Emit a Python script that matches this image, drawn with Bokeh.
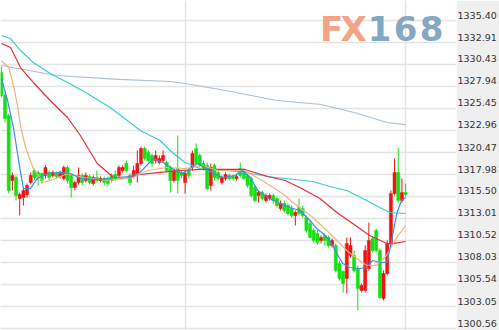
from bokeh.plotting import figure
from bokeh.models import Range1d, FixedTicker, CustomJSTickFormatter, Label, ColumnDataSource
from bokeh.embed import file_html
from bokeh.resources import INLINE

# ---- candle data (price) ----
opens = [1329.52, 1326.91, 1324.65, 1317.30, 1317.64, 1315.26, 1315.38, 1315.72, 1317.07, 1318.43,
         1318.21, 1318.09, 1317.87, 1318.21, 1317.87, 1318.09, 1317.75, 1317.53, 1318.77, 1317.87,
         1316.51, 1317.07, 1317.87, 1317.30, 1317.75, 1316.96, 1317.64, 1317.30, 1317.53, 1317.53,
         1317.87, 1317.98, 1317.87, 1318.43, 1319.22, 1317.87, 1317.87, 1318.09, 1319.22, 1320.92,
         1320.47, 1320.13, 1319.56, 1319.34, 1319.56, 1319.34, 1318.66, 1317.30, 1318.66, 1318.21,
         1317.07, 1318.43, 1318.77, 1320.92, 1320.13, 1319.22, 1319.00, 1316.73, 1319.00, 1318.21,
         1317.07, 1317.53, 1317.87, 1317.75, 1317.53, 1318.66, 1318.43, 1317.87, 1317.53, 1316.51,
         1315.60, 1315.94, 1315.04, 1315.26, 1315.60, 1315.26, 1314.13, 1314.70, 1314.47, 1314.13,
         1313.34, 1314.25, 1314.13, 1313.11, 1312.44, 1311.65, 1311.31, 1310.51, 1311.08, 1310.85,
         1309.95, 1309.95, 1307.91, 1307.01, 1306.22, 1308.82, 1308.82, 1307.35, 1304.86, 1304.86,
         1307.35, 1310.74, 1311.65, 1309.38, 1303.95, 1306.78, 1310.17, 1315.83, 1318.21, 1315.04,
         1315.94]
highs = [1330.20, 1327.25, 1324.88, 1318.21, 1317.87, 1315.94, 1316.51, 1316.96, 1318.21, 1318.66,
         1318.43, 1318.21, 1319.00, 1318.43, 1318.43, 1318.32, 1318.43, 1319.00, 1319.00, 1318.09,
         1317.30, 1318.77, 1318.09, 1318.21, 1317.98, 1317.87, 1318.43, 1317.75, 1317.75, 1317.75,
         1318.09, 1318.43, 1319.00, 1319.00, 1319.56, 1318.09, 1319.00, 1320.69, 1321.14, 1321.14,
         1320.69, 1320.35, 1320.69, 1320.13, 1320.69, 1319.56, 1319.00, 1318.66, 1322.39, 1318.43,
         1318.43, 1318.66, 1320.69, 1321.49, 1320.35, 1319.56, 1319.34, 1319.22, 1319.22, 1318.43,
         1317.87, 1318.21, 1318.09, 1317.98, 1317.98, 1319.34, 1318.66, 1318.09, 1317.75, 1316.73,
         1316.17, 1316.17, 1315.83, 1315.83, 1315.83, 1315.49, 1315.04, 1315.04, 1314.70, 1314.47,
         1313.91, 1315.26, 1314.47, 1313.34, 1312.78, 1311.87, 1311.65, 1311.08, 1311.31, 1311.08,
         1310.74, 1310.17, 1308.25, 1307.12, 1310.85, 1310.85, 1309.38, 1307.69, 1305.65, 1309.95,
         1312.55, 1310.97, 1311.87, 1309.61, 1307.12, 1310.51, 1316.17, 1319.79, 1321.03, 1317.53,
         1316.96]
lows = [1326.70, 1323.86, 1315.83, 1316.17, 1315.04, 1313.34, 1314.47, 1315.38, 1316.85, 1317.30,
        1316.73, 1316.96, 1317.53, 1317.30, 1317.64, 1317.53, 1317.53, 1317.30, 1316.96, 1315.38,
        1316.17, 1316.85, 1316.73, 1317.07, 1316.85, 1316.73, 1317.07, 1317.07, 1316.73, 1316.62,
        1317.07, 1317.30, 1317.64, 1318.21, 1318.21, 1316.73, 1317.53, 1317.07, 1319.00, 1319.56,
        1319.34, 1318.88, 1319.22, 1319.11, 1319.34, 1318.21, 1315.94, 1317.07, 1315.83, 1317.53,
        1315.83, 1317.53, 1318.43, 1319.00, 1318.77, 1318.43, 1316.17, 1316.17, 1317.30, 1317.30,
        1316.85, 1317.30, 1317.30, 1317.30, 1317.30, 1317.64, 1317.30, 1316.51, 1315.38, 1314.81,
        1314.81, 1315.04, 1314.81, 1315.04, 1314.70, 1314.25, 1313.91, 1313.68, 1313.34, 1313.11,
        1312.21, 1313.34, 1313.11, 1311.42, 1310.74, 1310.29, 1310.06, 1310.17, 1309.95, 1309.72,
        1309.72, 1306.90, 1305.99, 1304.63, 1304.52, 1308.59, 1306.90, 1302.60, 1304.63, 1304.63,
        1307.12, 1309.16, 1309.16, 1303.95, 1303.73, 1306.56, 1309.95, 1315.60, 1314.81, 1314.81,
        1315.49]
closes = [1326.91, 1324.31, 1316.17, 1317.87, 1315.60, 1315.72, 1316.17, 1316.73, 1317.87, 1317.64,
          1317.75, 1317.30, 1318.77, 1317.64, 1318.21, 1317.75, 1318.09, 1318.77, 1317.30, 1316.51,
          1317.07, 1317.87, 1317.07, 1317.87, 1317.07, 1317.64, 1317.30, 1317.53, 1317.07, 1316.96,
          1317.30, 1317.53, 1318.77, 1318.77, 1318.43, 1317.07, 1318.43, 1319.22, 1320.92, 1319.79,
          1319.56, 1319.22, 1320.13, 1319.79, 1320.13, 1318.43, 1317.30, 1318.43, 1317.30, 1317.87,
          1318.09, 1317.87, 1320.35, 1319.22, 1319.00, 1318.66, 1316.39, 1318.77, 1317.64, 1317.53,
          1317.64, 1317.98, 1317.53, 1317.53, 1317.75, 1317.87, 1317.53, 1316.73, 1315.60, 1315.04,
          1315.94, 1315.26, 1315.60, 1315.60, 1315.04, 1314.47, 1314.70, 1313.91, 1313.57, 1313.34,
          1313.68, 1313.57, 1313.34, 1311.65, 1310.85, 1310.51, 1310.29, 1310.85, 1310.51, 1309.95,
          1310.51, 1307.12, 1306.22, 1305.65, 1310.17, 1309.95, 1307.12, 1305.08, 1305.42, 1309.38,
          1310.51, 1309.38, 1309.38, 1304.07, 1306.78, 1310.17, 1315.83, 1318.21, 1315.04, 1315.94,
          1315.72]

# ---- moving-average lines (candle index, price) ----
ma_fast_x = [0, 1.7, 3.3, 4.7, 6, 7.9, 9.8, 12.5, 16, 18.8, 21.5, 26.9, 30.5, 35.1, 37.8, 41.3, 44,
             46.5, 49.2, 51.4, 53.3, 55.4, 57.6, 60.3, 63.6, 65.5, 67.7, 69.8, 72.5, 75.2, 78.5, 81.2,
             84, 85.8, 87.5, 89.4, 91.3, 92.9, 94.8, 97.5, 99.4, 101, 103, 104.9, 106.2, 107.6, 108.9, 110]
ma_fast_y = [1328.84, 1326.35, 1323.29, 1319.56, 1316.39, 1316.39, 1317.53, 1318.09, 1318.21, 1318.09,
             1317.53, 1317.41, 1317.64, 1317.75, 1318.21, 1319.79, 1319.34, 1318.66, 1318.09, 1318.66,
             1319.22, 1318.77, 1318.09, 1317.64, 1317.87, 1318.43, 1317.64, 1316.17, 1315.38, 1314.81,
             1314.25, 1313.91, 1312.78, 1311.87, 1311.31, 1310.51, 1309.04, 1307.91, 1307.46, 1307.35,
             1307.46, 1308.25, 1308.03, 1308.03, 1310.51, 1313.57, 1315.04, 1315.38]

ma_mid_x = [0, 2, 3.3, 4.4, 5.2, 6.6, 8.7, 11.4, 14.2, 18, 22.3, 29.6, 35.9, 39.7, 45.1, 50, 54.6, 59,
            66.3, 70.9, 74.4, 77.2, 79.3, 84.8, 89.4, 94, 96.7, 99.4, 102.1, 104.8, 107.6, 110]
ma_mid_y = [1330.88, 1330.08, 1328.05, 1325.78, 1323.52, 1321.03, 1318.66, 1317.07, 1317.41, 1318.09,
            1317.64, 1317.30, 1317.64, 1318.43, 1318.77, 1318.66, 1319.00, 1318.43, 1318.43, 1317.30,
            1316.39, 1315.60, 1314.81, 1313.11, 1311.31, 1309.38, 1308.48, 1307.69, 1307.69, 1308.82,
            1310.85, 1312.21]

ma_red_x = [0, 2.5, 5.2, 8.7, 13.3, 18, 21.5, 26.1, 30.5, 33.7, 37.8, 43.2, 48.6, 54.6, 66.3, 72.5,
            77.2, 81.2, 86.7, 91.3, 95.6, 100.2, 104.9, 106.5, 110]
ma_red_y = [1332.80, 1332.35, 1330.08, 1328.39, 1326.35, 1324.43, 1322.39, 1319.22, 1317.64, 1317.53,
            1317.98, 1318.21, 1318.43, 1318.55, 1318.55, 1317.75, 1317.30, 1316.51, 1315.26, 1313.68,
            1312.44, 1311.08, 1310.17, 1310.17, 1310.40]

ma_cyan_x = [0, 2.5, 5.2, 8.7, 13.3, 18, 23.4, 29.6, 34.3, 37.8, 43.2, 46.5, 50, 54.6, 61.4, 66.3,
             72.5, 77.2, 84.8, 89.4, 94, 99.4, 103, 105.7, 110]
ma_cyan_y = [1333.70, 1333.36, 1332.00, 1330.65, 1329.40, 1328.39, 1327.14, 1325.56, 1324.09, 1322.96,
             1321.83, 1320.47, 1319.34, 1318.55, 1318.43, 1318.21, 1317.75, 1317.53, 1317.19, 1316.62,
             1316.17, 1315.04, 1314.25, 1313.68, 1313.57]

ma_slow_x = [0, 15, 32, 46, 50, 61, 75, 87, 96, 105, 110]
ma_slow_y = [1330.31, 1329.18, 1328.73, 1328.50, 1328.27, 1327.48, 1326.35, 1325.90, 1324.99, 1323.86,
             1323.63]

tick_labels = ["1300.56", "1303.05", "1305.54", "1308.03", "1310.52", "1313.01", "1315.50", "1317.98",
               "1320.47", "1322.96", "1325.45", "1327.94", "1330.43", "1332.91", "1335.40"]
levels = [float(t) for t in tick_labels]
vgrid_at = [50, 110]

UP, DOWN = "#f01414", "#14e014"
n = len(opens)
idx = list(range(n))
colors = [UP if c >= o else DOWN for o, c in zip(opens, closes)]
src = ColumnDataSource(dict(
    x=idx, o=opens, h=highs, l=lows, c=closes,
    top=[max(o, c) for o, c in zip(opens, closes)],
    bot=[min(o, c) for o, c in zip(opens, closes)],
    color=colors,
))

p = figure(width=499, height=330, output_backend="svg", toolbar_location=None,
           x_range=Range1d(-0.231, 123.85), y_range=Range1d(1300.334, 1337.662),
           x_axis_location=None, y_axis_location="right",
           min_border_left=0, min_border_top=0, min_border_bottom=0, min_border_right=42)
p.outline_line_color = None
p.background_fill_color = "#ffffff"
p.border_fill_color = "#efefef"

p.xgrid.ticker = FixedTicker(ticks=vgrid_at)
p.ygrid.ticker = FixedTicker(ticks=levels)
for g in (p.xgrid, p.ygrid):
    g.grid_line_color = "#e4e4e4"
    g.grid_line_width = 1.5

lab_off = 0.62
ax = p.yaxis[0]
ax.ticker = FixedTicker(ticks=[v + lab_off for v in levels])
ax.formatter = CustomJSTickFormatter(code="return (tick - %s).toFixed(2);" % lab_off)
ax.axis_line_color = None
ax.major_tick_line_color = None
ax.minor_tick_line_color = None
ax.major_tick_out = 0
ax.major_tick_in = 0
ax.major_label_standoff = 1
ax.major_label_text_font = "DejaVu Sans"
ax.major_label_text_font_size = "9.5px"
ax.major_label_text_color = "#333333"

# watermark
for ch, cx, col in [("F", 331, "#f2a486"), ("X", 353, "#f2a486"), ("1", 379, "#82a8c2"),
                    ("6", 405, "#82a8c2"), ("8", 431, "#82a8c2")]:
    p.add_layout(Label(x=cx, y=302, x_units="screen", y_units="screen", text=ch,
                       text_font="DejaVu Sans", text_font_style="bold", text_font_size="34px",
                       text_color=col, text_align="center", text_baseline="alphabetic"))

p.segment("x", "h", "x", "l", source=src, color="color", line_width=1)
p.vbar(x="x", width=0.85, top="top", bottom="bot", source=src,
       fill_color="color", line_color="color", line_width=0.5)

p.line(ma_slow_x, ma_slow_y, line_color="#a9c0d6", line_width=1.2)
p.line(ma_cyan_x, ma_cyan_y, line_color="#3ccbd0", line_width=1.2)
p.line(ma_red_x, ma_red_y, line_color="#e0303a", line_width=1.2)
p.line(ma_mid_x, ma_mid_y, line_color="#f2b27e", line_width=1.2)
p.line(ma_fast_x, ma_fast_y, line_color="#3a8ee6", line_width=1.2)

open("out.html", "w").write(file_html(p, INLINE))
